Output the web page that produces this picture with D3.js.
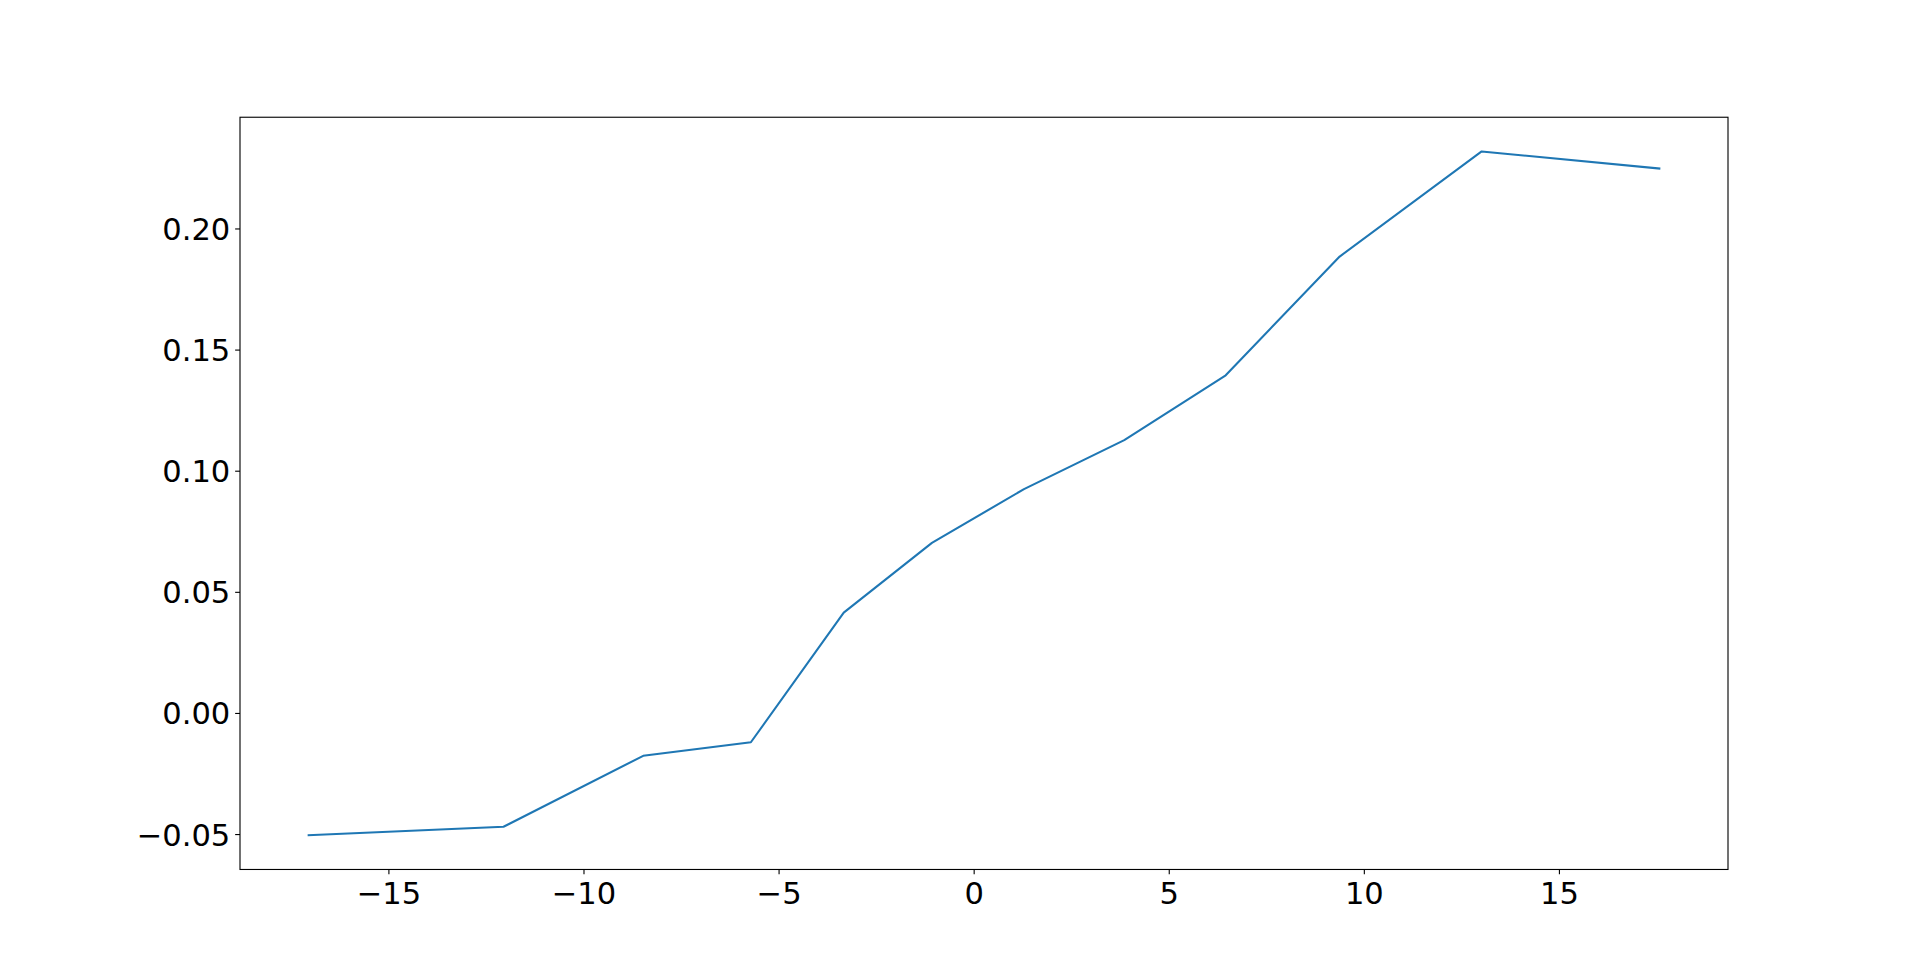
<!DOCTYPE html>
<html>
<head>
<meta charset="utf-8">
<script src="https://cdn.jsdelivr.net/npm/d3@7"></script>
<style>
  body { margin: 0; background: #fff; }
  text { font-family: "DejaVu Sans", sans-serif; }
</style>
</head>
<body>
<div id="line_chart"></div>
<script>
var xValues = [-17.07, -12.05, -8.47, -5.71, -3.33, -1.07, 1.29, 3.86, 6.46, 9.38, 13.02, 17.60];
var yValues = [-0.0505, -0.047, -0.0177, -0.0121, 0.0414, 0.0702, 0.0924, 0.1126, 0.1394, 0.1884, 0.2318, 0.2247];
var xTicks = [-15, -10, -5, 0, 5, 10, 15];
var yTicks = [-0.05, 0.00, 0.05, 0.10, 0.15, 0.20];

var width = 1920;
var height = 977;
var plotLeft = 240, plotRight = 1728, plotTop = 117.24, plotBottom = 869.47;
var fontSize = 30.56;

var points = xValues.map(function (x, i) { return { x: x, y: yValues[i] }; });

// matplotlib style 5% margins
function padded(ext) {
  var m = (ext[1] - ext[0]) * 0.05;
  return [ext[0] - m, ext[1] + m];
}

var xscale = d3.scaleLinear().domain(padded(d3.extent(xValues))).range([plotLeft, plotRight]);
var yscale = d3.scaleLinear().domain(padded(d3.extent(yValues))).range([plotBottom, plotTop]);

var svg = d3.select("#line_chart")
  .append("svg")
  .attr("width", width)
  .attr("height", height);

svg.append("rect")
  .attr("width", width)
  .attr("height", height)
  .attr("fill", "#fff");

svg.append("path")
  .datum(points)
  .attr("fill", "none")
  .attr("stroke", "#1f77b4")
  .attr("stroke-width", 2.08)
  .attr("stroke-linejoin", "round")
  .attr("d", d3.line().x(function (d) { return xscale(d.x); }).y(function (d) { return yscale(d.y); }));

var xaxis = d3.axisBottom(xscale)
  .tickValues(xTicks)
  .tickFormat(d3.format("d"))
  .tickSize(4.86)
  .tickPadding(4.86)
  .tickSizeOuter(0);

var gx = svg.append("g")
  .attr("transform", "translate(0," + plotBottom + ")")
  .call(xaxis);

var yaxis = d3.axisLeft(yscale)
  .tickValues(yTicks)
  .tickFormat(d3.format(".2f"))
  .tickSize(4.86)
  .tickPadding(4.86)
  .tickSizeOuter(0);

var gy = svg.append("g")
  .attr("transform", "translate(" + plotLeft + ",0)")
  .call(yaxis);

[gx, gy].forEach(function (g) {
  g.attr("font-size", fontSize).attr("font-family", "'DejaVu Sans', sans-serif");
  g.select(".domain").remove();
  g.selectAll(".tick line").attr("stroke", "#000").attr("stroke-width", 1.11);
  g.selectAll(".tick text").attr("fill", "#000");
});
gx.selectAll(".tick text").attr("dy", null).attr("y", 34.5);
gy.selectAll(".tick text").attr("dy", "0.36em");

// axes frame
svg.append("rect")
  .attr("x", plotLeft)
  .attr("y", plotTop)
  .attr("width", plotRight - plotLeft)
  .attr("height", plotBottom - plotTop)
  .attr("fill", "none")
  .attr("stroke", "#000")
  .attr("stroke-width", 1.11);
</script>
</body>
</html>
